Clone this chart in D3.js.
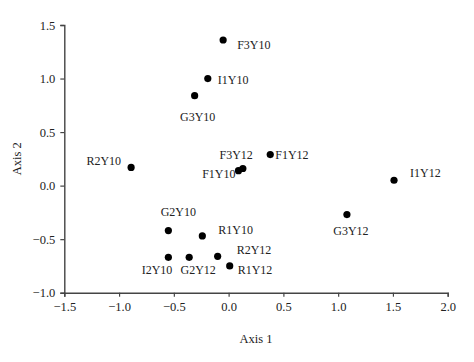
<!DOCTYPE html>
<html>
<head>
<meta charset="utf-8">
<script src="https://cdn.jsdelivr.net/npm/d3@7"></script>
<style>
  body { margin: 0; background: #fff; }
  svg { display: block; font-family: "Liberation Serif", "DejaVu Serif", serif; }
</style>
</head>
<body>
<svg id="chart"></svg>
<script>
const width = 474;
const height = 362;

// sample names and their ordination scores
const names = ['F3Y10', 'I1Y10', 'G3Y10', 'R2Y10', 'F3Y12', 'F1Y10', 'F1Y12', 'I1Y12',
    'G3Y12', 'G2Y10', 'R1Y10', 'I2Y10', 'G2Y12', 'R2Y12', 'R1Y12'];
const axis1 = [-0.05, -0.19, -0.31, -0.89, 0.13, 0.09, 0.38, 1.51,
    1.08, -0.55, -0.24, -0.55, -0.36, -0.10, 0.01];
const axis2 = [1.36, 1.00, 0.84, 0.17, 0.16, 0.14, 0.29, 0.05,
    -0.27, -0.42, -0.47, -0.67, -0.67, -0.66, -0.75];

const xTicks = [-1.5, -1.0, -0.5, 0.0, 0.5, 1.0, 1.5, 2.0];
const yTicks = [-1.0, -0.5, 0.0, 0.5, 1.0, 1.5];

// where each label sits next to its dot: [dx, dy, anchor]
const labelPlace = {
    'F3Y10': [14, 5, 'start'],
    'I1Y10': [10, 1, 'start'],
    'G3Y10': [3, 21, 'middle'],
    'R2Y10': [-10, -7, 'end'],
    'F3Y12': [10, -14, 'end'],
    'F1Y10': [-3, 3, 'end'],
    'F1Y12': [5, 0, 'start'],
    'I1Y12': [16, -7, 'start'],
    'G3Y12': [4, 16, 'middle'],
    'G2Y10': [10, -19, 'middle'],
    'R1Y10': [16, -6, 'start'],
    'I2Y10': [4, 12, 'end'],
    'G2Y12': [9, 12, 'middle'],
    'R2Y12': [19, -6, 'start'],
    'R1Y12': [8, 4, 'start']
};

const data = names.map((n, i) => ({name: n, a1: axis1[i], a2: axis2[i]}));

const svg = d3.select('#chart')
    .attr('width', width)
    .attr('height', height);

const x = d3.scaleLinear().domain([-1.5, 2.0]).range([64.3, 447.7]);
const y = d3.scaleLinear().domain([-1.0, 1.5]).range([292.7, 25]);

const axisColor = '#444';

const xAxis = svg.append('g')
    .attr('transform', `translate(0, ${y(-1.0)})`)
    .call(d3.axisBottom(x).tickValues(xTicks).tickFormat(d3.format('.1f')).tickSize(4).tickPadding(5));

const yAxis = svg.append('g')
    .attr('transform', `translate(${x(-1.5)}, 0)`)
    .call(d3.axisLeft(y).tickValues(yTicks).tickFormat(d3.format('.1f')).tickSize(4).tickPadding(5));

[xAxis, yAxis].forEach(g => {
    g.select('.domain').attr('stroke', axisColor).attr('stroke-width', 1.4);
    g.selectAll('.tick line').attr('stroke', axisColor).attr('stroke-width', 1.2);
    g.selectAll('.tick text')
        .attr('fill', '#222')
        .style('font-family', '"Liberation Serif", "DejaVu Serif", serif')
        .style('font-size', '12.5px');
});

svg.append('text')
    .attr('x', (x(-1.5) + x(2.0)) / 2)
    .attr('y', 343)
    .attr('text-anchor', 'middle')
    .attr('fill', '#222')
    .style('font-size', '12.5px')
    .text('Axis 1');

svg.append('text')
    .attr('transform', `translate(21, ${(y(-1.0) + y(1.5)) / 2}) rotate(-90)`)
    .attr('text-anchor', 'middle')
    .attr('fill', '#222')
    .style('font-size', '12.5px')
    .text('Axis 2');

svg.selectAll('circle').data(data)
    .enter()
    .append('circle')
    .attr('cx', d => x(d.a1))
    .attr('cy', d => y(d.a2))
    .attr('r', 3.6)
    .attr('fill', '#000');

svg.selectAll('.lbl').data(data)
    .enter()
    .append('text')
    .attr('class', 'lbl')
    .attr('x', d => x(d.a1) + labelPlace[d.name][0])
    .attr('y', d => y(d.a2) + labelPlace[d.name][1])
    .attr('dy', '0.35em')
    .attr('text-anchor', d => labelPlace[d.name][2])
    .attr('fill', '#222')
    .style('font-size', '12px')
    .text(d => d.name);
</script>
</body>
</html>
